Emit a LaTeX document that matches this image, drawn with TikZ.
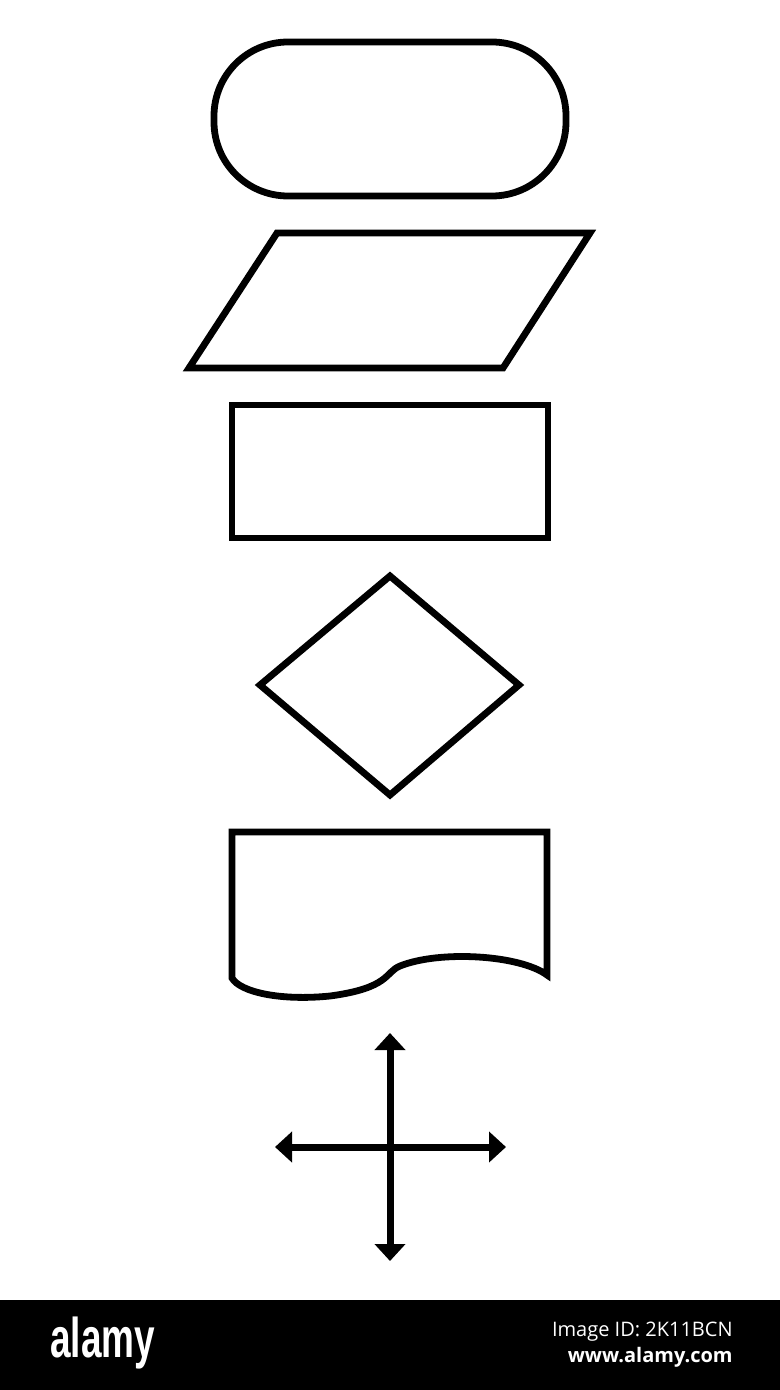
\documentclass[tikz,border=0pt]{standalone}
\usepackage{fontspec}
\setmainfont{Open Sans}
\newfontfamily\logofont[FakeStretch=0.66]{Liberation Sans}
\usetikzlibrary{arrows.meta}
\begin{document}
\begin{tikzpicture}[x=0.5pt,y=-0.5pt,
  outline/.style={draw=black,line width=3.4pt,line join=miter},
  flow/.style={draw=black,line width=3.5pt,-{Triangle[width=15pt,length=8.5pt]}},
  wm/.style={text=white,inner sep=0pt}]
\useasboundingbox (0,0) rectangle (780,1390);
\fill[white] (0,0) rectangle (780,1300);
% terminator
\draw[outline,rounded corners=37pt] (214,42) rectangle (566,196);
\node (term) at (390,119) {};
% parallelogram
\draw[outline] (277,233) -- (590,233) -- (503,368) -- (189,368) -- cycle;
\node (io) at (390,300) {};
% process
\draw[outline] (232,405) rectangle (548,538);
\node (proc) at (390,471) {};
% decision
\draw[outline] (390,576) -- (519,685) -- (390,795) -- (260,685) -- cycle;
\node (dec) at (390,685) {};
% document
\draw[outline] (232,978) -- (232,832) -- (547,832) -- (547,975)
  .. controls (520,955) and (440,950) .. (400,966)
  .. controls (385,972) and (390,988) .. (330,996)
  .. controls (280,1001) and (240,992) .. (232,978) -- cycle;
\node (doc) at (390,900) {};
% arrows
\coordinate (c) at (390,1147);
\coordinate (up) at (390,1033);
\coordinate (dn) at (390,1261);
\coordinate (lf) at (275,1147);
\coordinate (rt) at (506,1147);
\draw[flow] (c) -- (up);
\draw[flow] (c) -- (dn);
\draw[flow] (c) -- (lf);
\draw[flow] (c) -- (rt);
% watermark bar
\fill[black] (0,1300) rectangle (780,1390);
\node[wm,anchor=west] (logo) at (50,1343) {\logofont\bfseries\fontsize{28}{28}\selectfont alamy};
\node[wm,anchor=east] (imgid) at (733,1332) {\fontsize{10}{11}\selectfont Image ID: 2K11BCN};
\node[wm,anchor=east] (url) at (733,1357) {\bfseries\fontsize{10}{11}\selectfont www.alamy.com};
\end{tikzpicture}
\end{document}
